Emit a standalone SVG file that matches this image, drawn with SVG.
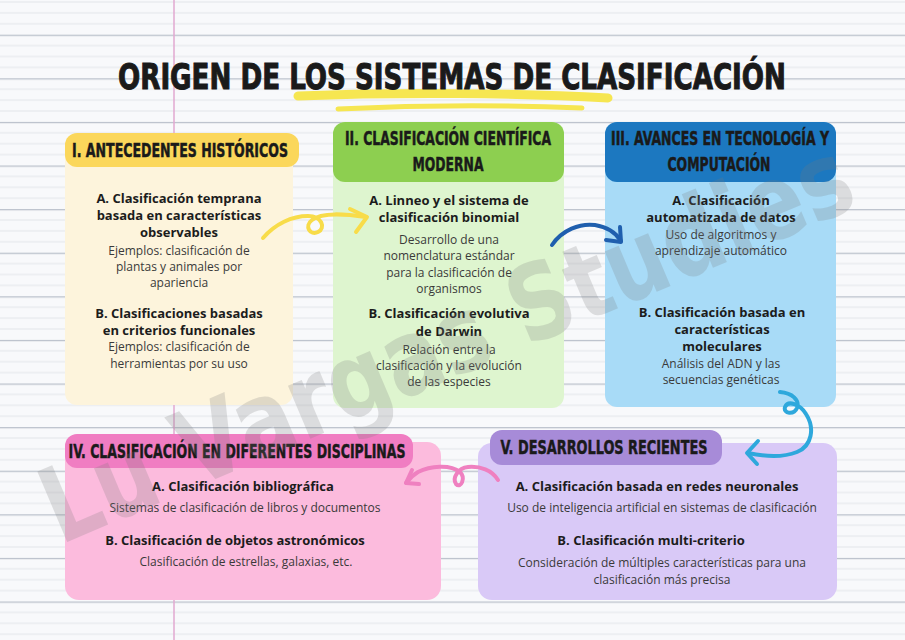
<svg xmlns="http://www.w3.org/2000/svg" width="905" height="640" viewBox="0 0 905 640">
<defs>
<pattern id="paper" patternUnits="userSpaceOnUse" x="0" y="34.7" width="905" height="43.6">
<rect width="905" height="43.6" fill="#f8f9fb"/>
<line x1="0" y1="10.9" x2="905" y2="10.9" stroke="#eaecef" stroke-width="1.3"/>
<line x1="0" y1="21.8" x2="905" y2="21.8" stroke="#eaecef" stroke-width="1.3"/>
<line x1="0" y1="32.7" x2="905" y2="32.7" stroke="#eaecef" stroke-width="1.3"/>
<line x1="0" y1="0.6" x2="905" y2="0.6" stroke="#b9c0ca" stroke-width="1.3"/>
</pattern>
</defs>
<style>
.hd{font-family:'DejaVu Sans Condensed','DejaVu Sans',sans-serif;font-weight:bold;font-stretch:condensed;fill:#1a1a1a;stroke:#1a1a1a;stroke-width:0.5;text-anchor:middle}
.b{font-family:'Open Sans','Noto Sans',sans-serif;font-weight:bold;font-size:13px;fill:#1c1c1c;text-anchor:middle}
.r{font-family:'Open Sans','Noto Sans',sans-serif;font-size:12px;fill:#3a3a3a;text-anchor:middle}
.c{fill:none;stroke-width:4;stroke-linecap:round;stroke-linejoin:round}
</style>
<rect width="905" height="640" fill="url(#paper)"/>
<line x1="174" y1="0" x2="174" y2="640" stroke="#e2a9d0" stroke-width="1.5"/>

<g id="title">
<path d="M298,96 C400,92 520,93 608,98" fill="none" stroke="#f6e651" stroke-width="9" stroke-linecap="round"/>
<path d="M338,109 C420,105 510,105 582,108" fill="none" stroke="#f6e651" stroke-width="5" stroke-linecap="round"/>
<text class="hd" x="452" y="89" font-size="36" style="stroke-width:1" textLength="668" lengthAdjust="spacingAndGlyphs">ORIGEN DE LOS SISTEMAS DE CLASIFICACIÓN</text>
</g>

<g id="node-antecedentes">
<rect x="65" y="145" width="228" height="260" rx="12" fill="#fdf4dc"/>
<rect x="65" y="133" width="234" height="34" rx="12" fill="#fbd75b"/>
<text class="hd" x="180" y="157" font-size="20" textLength="216" lengthAdjust="spacingAndGlyphs">I. ANTECEDENTES HISTÓRICOS</text>
<text class="b" x="179" y="203">A. Clasificación temprana</text>
<text class="b" x="179" y="220">basada en características</text>
<text class="b" x="179" y="237">observables</text>
<text class="r" x="179" y="255">Ejemplos: clasificación de</text>
<text class="r" x="179" y="271">plantas y animales por</text>
<text class="r" x="179" y="287">apariencia</text>
<text class="b" x="179" y="318">B. Clasificaciones basadas</text>
<text class="b" x="179" y="335">en criterios funcionales</text>
<text class="r" x="179" y="351">Ejemplos: clasificación de</text>
<text class="r" x="179" y="368">herramientas por su uso</text>
</g>

<g id="node-cientifica">
<rect x="333" y="122" width="231" height="286" rx="12" fill="#def5cf"/>
<rect x="333" y="122" width="231" height="60" rx="12" fill="#8dcf50"/>
<text class="hd" x="448" y="145" font-size="20" textLength="206" lengthAdjust="spacingAndGlyphs">II. CLASIFICACIÓN CIENTÍFICA</text>
<text class="hd" x="448" y="171" font-size="20" textLength="71" lengthAdjust="spacingAndGlyphs">MODERNA</text>
<text class="b" x="449" y="205">A. Linneo y el sistema de</text>
<text class="b" x="449" y="222">clasificación binomial</text>
<text class="r" x="449" y="244">Desarrollo de una</text>
<text class="r" x="449" y="260">nomenclatura estándar</text>
<text class="r" x="449" y="277">para la clasificación de</text>
<text class="r" x="449" y="293">organismos</text>
<text class="b" x="449" y="318">B. Clasificación evolutiva</text>
<text class="b" x="449" y="336">de Darwin</text>
<text class="r" x="449" y="354">Relación entre la</text>
<text class="r" x="449" y="370">clasificación y la evolución</text>
<text class="r" x="449" y="386">de las especies</text>
</g>

<g id="node-tecnologia">
<rect x="605" y="122" width="231" height="285" rx="12" fill="#a8dbf7"/>
<rect x="605" y="122" width="231" height="60" rx="12" fill="#1c78c0"/>
<text class="hd" x="720" y="145" font-size="20" textLength="218" lengthAdjust="spacingAndGlyphs">III. AVANCES EN TECNOLOGÍA Y</text>
<text class="hd" x="719" y="171" font-size="20" textLength="103" lengthAdjust="spacingAndGlyphs">COMPUTACIÓN</text>
<text class="b" x="721" y="205">A. Clasificación</text>
<text class="b" x="721" y="222">automatizada de datos</text>
<text class="r" x="721" y="239">Uso de algoritmos y</text>
<text class="r" x="721" y="255">aprendizaje automático</text>
<text class="b" x="722" y="317">B. Clasificación basada en</text>
<text class="b" x="722" y="334">características</text>
<text class="b" x="722" y="351">moleculares</text>
<text class="r" x="721" y="368">Análisis del ADN y las</text>
<text class="r" x="721" y="384">secuencias genéticas</text>
</g>

<g id="node-disciplinas">
<rect x="65" y="442" width="376" height="158" rx="14" fill="#fcbbdd"/>
<rect x="65" y="434" width="348" height="34" rx="12" fill="#f07dc2"/>
<text class="hd" x="237" y="458" font-size="20" textLength="337" lengthAdjust="spacingAndGlyphs">IV. CLASIFICACIÓN EN DIFERENTES DISCIPLINAS</text>
<text class="b" x="243" y="491">A. Clasificación bibliográfica</text>
<text class="r" x="245" y="512">Sistemas de clasificación de libros y documentos</text>
<text class="b" x="235" y="545">B. Clasificación de objetos astronómicos</text>
<text class="r" x="246" y="566">Clasificación de estrellas, galaxias, etc.</text>
</g>

<g id="node-recientes">
<rect x="478" y="443" width="359" height="157" rx="14" fill="#d9c9f7"/>
<rect x="490" y="430" width="232" height="35" rx="12" fill="#a78bd8"/>
<text class="hd" x="604" y="454" font-size="20" textLength="207" lengthAdjust="spacingAndGlyphs">V. DESARROLLOS RECIENTES</text>
<text class="b" x="657" y="491">A. Clasificación basada en redes neuronales</text>
<text class="r" x="662" y="512">Uso de inteligencia artificial en sistemas de clasificación</text>
<text class="b" x="651" y="545">B. Clasificación multi-criterio</text>
<text class="r" x="662" y="567">Consideración de múltiples características para una</text>
<text class="r" x="662" y="584">clasificación más precisa</text>
</g>

<g id="connectors">
<g id="c1" class="c" stroke="#f8dc4a">
<path d="M263,238 C275,224 292,216 308,216 C322,216 326,228 318,232 C310,236 304,226 312,220 C322,212 345,214 366,217"/>
<path d="M350,209 L367,217 L356,232"/>
</g>
<g id="c2" class="c" stroke="#1f5fae">
<path d="M552,245 C562,230 580,223 595,225 C608,227 616,233 621,241"/>
<path d="M620,227 L621,242 L606,240"/>
</g>
<g id="c3" class="c" stroke="#2ea8dc">
<path d="M780,392 C792,393 800,400 797,408 C794,415 783,414 785,407 C788,400 800,404 806,414 C815,428 812,446 797,452 C782,458 762,456 748,453"/>
<path d="M758,441 L747,453 L757,464"/>
</g>
<g id="c4" class="c" stroke="#ef80c0">
<path d="M498,480 C492,470 480,466 468,467 C458,468 452,478 456,484 C461,489 466,478 460,472 C450,464 430,466 418,472 C413,475 409,479 406,483"/>
<path d="M412,470 L406,483 L419,484"/>
</g>
</g>

<g id="watermark" opacity="0.22">
<text transform="translate(60,545) rotate(-23)" x="0" y="0" font-family="'DejaVu Sans','Liberation Sans',sans-serif" font-weight="bold" font-size="105" fill="#7a7a7a" textLength="870" lengthAdjust="spacingAndGlyphs">Lu Vargas Studies</text>
</g>
</svg>
